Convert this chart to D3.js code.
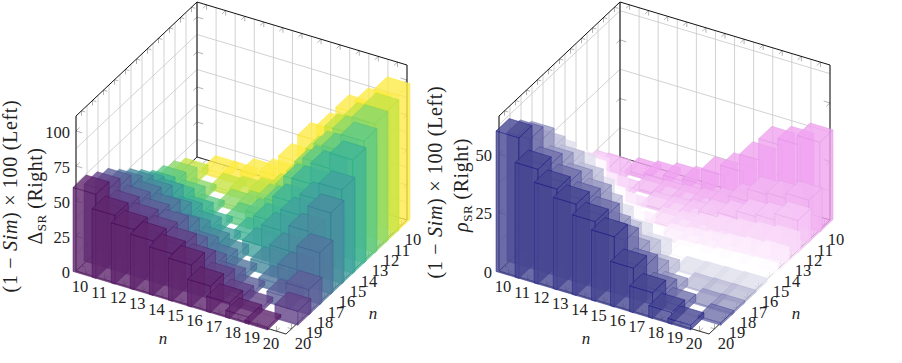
<!DOCTYPE html>
<html>
<head>
<meta charset="utf-8">
<script src="https://cdn.jsdelivr.net/npm/d3@7"></script>
<style>
  html, body { margin: 0; background: #fff; }
  text { font-family: "Liberation Serif", serif; fill: #222; }
</style>
</head>
<body>
<script>
var sizes = [10, 11, 12, 13, 14, 15, 16, 17, 18, 19, 20]

// rows are the right hand n (10 at the back), columns the left hand n
var leftValues = [
  [0, 4, 4, 10, 14, 29, 48, 59, 76, 85, 97],
  [5.5, 0, 3, 5, 8, 15, 30, 50, 70, 82, 93],
  [11, 3, 0, 3, 6, 15, 28, 48, 65, 80, 92],
  [15, 9, 3, 0, 5, 12, 25, 45, 62, 75, 87],
  [19, 15, 9, 3, 0, 6, 20, 38, 55, 70, 81],
  [27, 25, 16, 10, 4, 0, 10, 25, 40, 55, 67],
  [35, 32, 24, 15, 10, 6, 0, 8, 22, 40, 58],
  [42, 38, 33, 24, 15, 10, 4, 0, 6, 20, 37],
  [50, 42, 37, 33, 22, 14, 8, 3, 0, 8, 18],
  [55, 46, 41, 36, 32, 24, 15, 7, 3, 0, 10],
  [60, 49, 43, 39, 34, 30, 19, 11, 5, 2, 0]
]

var rightValues = [
  [0, 1.5, 2.6, 4.2, 5.2, 11.7, 15.8, 23, 32, 34.5, 38.3],
  [5.5, 0, 1, 1.5, 2, 3, 5.5, 9.7, 15, 15.8, 18],
  [11, 3, 0, 1, 1.5, 2.5, 5, 7, 10, 11, 13.7],
  [15, 9, 3, 0, 1, 2, 3.5, 5, 6, 7, 8],
  [19, 15, 9, 3, 0, 1, 2, 3, 4, 5, 6],
  [27, 25, 16, 10, 4, 0, 1, 1.5, 2.5, 3, 3.5],
  [35, 32, 24, 15, 10, 6, 0, 0.7, 1, 1.2, 1.5],
  [42, 38, 33, 24, 15, 10, 4, 0, 0.5, 0.7, 0.8],
  [50, 42, 37, 33, 22, 14, 8, 3, 0, 0.6, 0.8],
  [55, 46, 41, 36, 32, 24, 15, 7, 3, 0, 1],
  [60, 49, 43, 39, 34, 30, 19, 11, 5, 2, 0]
]

var leftTicks = [0, 25, 50, 75, 100]
var rightTicks = [0, 25, 50]
var leftGrid = [12.5, 37.5, 62.5, 87.5]
var rightGrid = [12.5, 37.5, 62.5]

var svg = d3.select("body").append("svg")
  .attr("width", 902)
  .attr("height", 363)

var uBand = d3.scaleBand().domain(sizes).range([0, 11])
var vBand = d3.scaleBand().domain(sizes).range([0, 11])

// floor axes in screen pixels, measured from the back corner
var uX = d3.scaleLinear().domain([0, 11]).range([0, 210])
var uY = d3.scaleLinear().domain([0, 11]).range([0, 63])
var vX = d3.scaleLinear().domain([0, 11]).range([0, -121])
var vY = d3.scaleLinear().domain([0, 11]).range([0, 114])

var barPad = 0.1

function drawPanel(opts) {
  var g = svg.append("g").attr("transform", "translate(" + opts.dx + ",0)")
  var z = d3.scaleLinear().domain([0, opts.zMax]).range([0, 155])

  var pt = function (u, v, h) {
    return [197 + uX(u) + vX(v), 157 + uY(u) + vY(v) - z(h)]
  }
  var line = function (a, b, col, w) {
    g.append("line")
      .attr("x1", a[0]).attr("y1", a[1])
      .attr("x2", b[0]).attr("y2", b[1])
      .attr("stroke", col)
      .attr("stroke-width", w)
  }
  var zTop = opts.zMax
  var gridCol = "#c6c6c6"
  var tickCol = "#666"

  // grid on the walls and the floor
  d3.range(0, 12).forEach(function (k) {
    line(pt(k, 0, 0), pt(k, 0, zTop), gridCol, 0.8)
    line(pt(0, k, 0), pt(0, k, zTop), gridCol, 0.8)
    line(pt(k, 0, 0), pt(k, 11, 0), gridCol, 0.8)
    line(pt(0, k, 0), pt(11, k, 0), gridCol, 0.8)
  })
  opts.grid.forEach(function (t) {
    line(pt(0, 0, t), pt(11, 0, t), gridCol, 0.8)
    line(pt(0, 0, t), pt(0, 11, t), gridCol, 0.8)
  })

  // little ticks at each category, top and bottom of the box
  var tickLen = 0.33
  var zLen = 5 * opts.zMax / 155
  sizes.forEach(function (n) {
    var c = uBand(n) + 0.5
    var d = vBand(n) + 0.5
    line(pt(c, 0, zTop), pt(c, tickLen, zTop), tickCol, 0.5)
    line(pt(c, 0, zTop), pt(c, 0, zTop - zLen), tickCol, 0.5)
    line(pt(0, d, zTop), pt(tickLen * 0.6, d, zTop), tickCol, 0.5)
    line(pt(0, d, zTop), pt(0, d, zTop - zLen), tickCol, 0.5)
    line(pt(c, 11, 0), pt(c, 11 - tickLen, 0), tickCol, 0.5)
    line(pt(c, 11, 0), pt(c, 11, zLen), tickCol, 0.5)
    line(pt(11, d, 0), pt(11 - tickLen * 0.6, d, 0), tickCol, 0.5)
    line(pt(11, d, 0), pt(11, d, zLen), tickCol, 0.5)
    line(pt(c, 0, 0), pt(c, tickLen, 0), tickCol, 0.5)
    line(pt(0, d, 0), pt(tickLen * 0.6, d, 0), tickCol, 0.5)
  })
  opts.ticks.forEach(function (t) {
    line(pt(0, 0, t), pt(tickLen, 0, t), tickCol, 0.5)
    line(pt(0, 0, t), pt(0, tickLen, t), tickCol, 0.5)
    line(pt(0, 11, t), pt(tickLen, 11, t), tickCol, 0.5)
    line(pt(0, 11, t), pt(0, 11 - tickLen, t), tickCol, 0.5)
    line(pt(11, 0, t), pt(11 - tickLen, 0, t), tickCol, 0.5)
    line(pt(11, 0, t), pt(11, tickLen, t), tickCol, 0.5)
  })

  // box edges
  var black = "#111"
  line(pt(0, 0, 0), pt(0, 0, zTop), black, 1)
  line(pt(0, 11, 0), pt(0, 11, zTop), black, 1)
  line(pt(11, 0, 0), pt(11, 0, zTop), black, 1)
  line(pt(0, 0, zTop), pt(11, 0, zTop), black, 1)
  line(pt(0, 0, zTop), pt(0, 11, zTop), black, 1)
  line(pt(0, 0, 0), pt(11, 0, 0), black, 0.8)
  line(pt(0, 0, 0), pt(0, 11, 0), black, 0.8)
  line(pt(0, 11, 0), pt(11, 11, 0), black, 0.8)
  line(pt(11, 0, 0), pt(11, 11, 0), black, 0.8)

  // bars back to front, zero cells stay empty
  var path = d3.line()
  opts.values.forEach(function (row, r) {
    var col = opts.color(r)
    var edge = opts.edge(r)
    row.forEach(function (val, c) {
      if (val <= 0) return
      var u0 = uBand(sizes[c]) - barPad
      var u1 = uBand(sizes[c]) + uBand.bandwidth() + barPad
      var v0 = vBand(sizes[r]) - barPad
      var v1 = vBand(sizes[r]) + vBand.bandwidth() + barPad
      var faces = [
        [pt(u0, v1, 0), pt(u1, v1, 0), pt(u1, v1, val), pt(u0, v1, val)],
        [pt(u1, v1, 0), pt(u1, v0, 0), pt(u1, v0, val), pt(u1, v1, val)],
        [pt(u0, v1, val), pt(u1, v1, val), pt(u1, v0, val), pt(u0, v0, val)]
      ]
      faces.forEach(function (f) {
        g.append("path")
          .attr("d", path(f) + "Z")
          .attr("fill", col)
          .attr("fill-opacity", opts.alpha)
          .attr("stroke", edge)
          .attr("stroke-opacity", 0.7)
          .attr("stroke-width", 0.6)
      })
    })
  })

  // tick labels
  sizes.forEach(function (n) {
    var a = pt(uBand(n) + 0.5, 11, 0)
    var b = pt(11, vBand(n) + 0.5, 0)
    g.append("text").attr("x", a[0] - 5.5).attr("y", a[1] + 18)
      .attr("text-anchor", "middle").attr("font-size", 16.5).text(n)
    g.append("text").attr("x", b[0] + 11.5).attr("y", b[1] + 20)
      .attr("text-anchor", "middle").attr("font-size", 16.5).text(n)
  })
  opts.ticks.forEach(function (t) {
    var a = pt(0, 11, t)
    g.append("text").attr("x", a[0] - opts.zLabelGap).attr("y", a[1] + 7)
      .attr("text-anchor", "end").attr("font-size", 16.5).text(t)
  })
  g.append("text").attr("x", 163).attr("y", 344)
    .attr("text-anchor", "middle").attr("font-style", "italic").attr("font-size", 17).text("n")
  g.append("text").attr("x", 373).attr("y", 319)
    .attr("text-anchor", "middle").attr("font-style", "italic").attr("font-size", 17).text("n")

  // rotated two line label
  var lab = g.append("text")
    .attr("transform", "translate(" + opts.labelX + "," + opts.labelY + ") rotate(-90)")
    .attr("text-anchor", "middle")
    .attr("font-size", 20)
    .attr("letter-spacing", 0.7)
  lab.append("tspan").text("(1 \u2212 ")
  lab.append("tspan").attr("font-style", "italic").text("Sim")
  lab.append("tspan").text(") \u00d7 100 (Left)")

  var lab2 = g.append("text")
    .attr("transform", "translate(" + opts.label2X + "," + opts.label2Y + ") rotate(-90)")
    .attr("text-anchor", "middle")
    .attr("font-size", 20)
    .attr("letter-spacing", 0.5)
  lab2.append("tspan").attr("font-style", opts.symItalic ? "italic" : "normal").text(opts.symbol)
  lab2.append("tspan").attr("font-size", 13).attr("dy", 4).text("SR")
  lab2.append("tspan").attr("dy", -4).text(" (Right)")
}

var viridisRow = d3.scaleLinear().domain([0, 10]).range([1, 0])
var leftEdge = function (r) { return d3.interpolateViridis(viridisRow(r)) }
var leftFill = function (r) { return d3.interpolateRgb(leftEdge(r), "white")(0.15) }

// pink down to white at row 5, then a curved run into a soft navy
var pinkRow = d3.scaleLinear().domain([0, 5]).range(["#f0a4f0", "white"])
var navyRow = d3.scalePow().exponent(1.6).domain([5, 10]).range(["white", "#464691"])
var splitRow = function (r) { return r <= 5 ? pinkRow(r) : navyRow(r) }
var splitEdge = function (r) {
  if (r > 5) return d3.interpolateRgb(splitRow(r), "navy")(Math.pow((r - 5) / 5, 2) * 0.8)
  if (r < 3) return d3.interpolateRgb(splitRow(r), "#b060c0")(0.3)
  return splitRow(r)
}

drawPanel({
  dx: 0,
  zMax: 110.7,
  values: leftValues,
  color: leftFill,
  edge: leftEdge,
  alpha: 0.8,
  ticks: leftTicks,
  grid: leftGrid,
  zLabelGap: 6,
  labelX: 17,
  labelY: 196,
  label2X: 42,
  label2Y: 196,
  symbol: "\u0394",
  symItalic: false
})

drawPanel({
  dx: 423,
  zMax: 66.2,
  values: rightValues,
  color: splitRow,
  edge: splitEdge,
  alpha: 0.8,
  ticks: rightTicks,
  grid: rightGrid,
  zLabelGap: 7,
  labelX: 19,
  labelY: 182,
  label2X: 45,
  label2Y: 185,
  symbol: "\u03c1",
  symItalic: true
})
</script>
</body>
</html>
